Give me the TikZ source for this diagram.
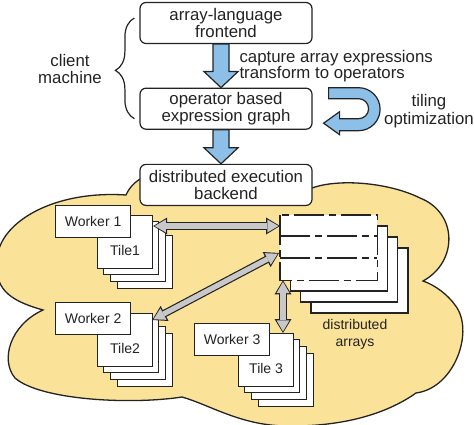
\documentclass[tikz,border=0pt]{standalone}
\usepackage{fontspec}
\setmainfont{Liberation Sans}
\usetikzlibrary{arrows.meta,positioning,calc,decorations.pathreplacing}
\definecolor{cloudyellow}{RGB}{250,226,152}
\definecolor{arrowblue}{RGB}{140,192,232}
\definecolor{arrowgray}{RGB}{200,200,200}
\definecolor{inkline}{RGB}{35,35,35}
\newcommand{\bigtext}{\fontsize{16.8}{17.5}\selectfont}
\newcommand{\bigtight}{\fontsize{16.8}{11.5}\selectfont}
\newcommand{\smalltext}{\fontsize{14}{17}\selectfont}

% blue block arrow pointing down
\newcommand{\blockdown}[2]{%
  \draw[bluearrow] let \p1=#1, \p2=#2 in
    (\x1-8pt,\y1) -- (\x1-8pt,\y2+16pt) -- (\x1-17pt,\y2+16pt) -- (\x1,\y2)
    -- (\x1+17pt,\y2+16pt) -- (\x1+8pt,\y2+16pt) -- (\x1+8pt,\y1) -- cycle;}
% gray two-headed link
\newcommand{\graylink}[2]{%
  \draw[linkout] #1 -- #2;
  \draw[linkin] #1 -- #2;}
% stack of tiles with a worker tag
\newcommand{\tilestack}[5]{%
  \coordinate (#1c) at #2;
  \foreach \k in {3,2,1}
    \draw[sheet] ($(#1c)+(\k*6.8,\k*6.8)$) rectangle +(55,53);
  \node[sheet,anchor=north west,minimum width=55pt,minimum height=53pt] (#1) at (#1c) {};
  \node[font=\smalltext] (#1lab) at ($(#1.north)+(0,35)$) {#3};
  \node[worker,anchor=north west] (#1w) at ($(#1c)+#5$) {#4};}

\begin{document}
\begin{tikzpicture}[
  x=1pt,y=-1pt,
  text=inkline,
  box/.style={draw=inkline,line width=1.2pt,rounded corners=6pt,fill=white,
              minimum width=172pt,minimum height=41pt,align=center,font=\bigtext},
  sheet/.style={draw=inkline,fill=white,line width=1.2pt},
  worker/.style={sheet,minimum width=75pt,minimum height=32pt,inner sep=0pt,font=\smalltext},
  bluearrow/.style={draw=inkline,fill=arrowblue,line width=1.2pt,line join=miter},
  linkout/.style={draw=inkline,line width=7.6pt,
    {Triangle[length=14pt,width=17pt,line width=0pt]}-{Triangle[length=14pt,width=17pt,line width=0pt]}},
  linkin/.style={draw=arrowgray,line width=5.2pt,shorten <=1.5pt,shorten >=1.5pt,
    {Triangle[length=11.2pt,width=13pt,line width=0pt]}-{Triangle[length=11.2pt,width=13pt,line width=0pt]}},
  cloud/.style={draw=inkline,fill=cloudyellow,line width=1.3pt},
  dashdot/.style={draw=inkline,line width=1.2pt,dash pattern=on 30pt off 5pt on 7pt off 5pt}
]
\useasboundingbox (0,0) rectangle (474,425);

% the cloud
\draw[cloud] (150,175) .. controls (138,178) and (130,186) .. (126,195)
  .. controls (50,190) and (-4,225) .. (-3,262)
  .. controls (-6,292) and (15,302) .. (43,310)
  .. controls (10,325) and (0,360) .. (15,378)
  .. controls (40,400) and (130,405) .. (182,397)
  .. controls (210,405) and (240,425) .. (285,426)
  .. controls (340,427) and (385,415) .. (416,393)
  .. controls (455,388) and (475,330) .. (455,305)
  .. controls (448,295) and (435,285) .. (423,281)
  .. controls (458,262) and (458,213) .. (420,198)
  .. controls (390,183) and (340,178) .. (312,188)
  .. controls (290,168) and (180,168) .. (150,175) -- cycle;

% client side
\node[box] (front) at (226,23) {array-language\\frontend};
\node[box,below=43.5pt of front] (expr) {operator based\\expression graph};
\node[box,below=34pt of expr] (backend) {distributed execution\\backend};

\blockdown{($(front.south)+(-5,0)$)}{($(expr.north)+(-5,0)$)}
\blockdown{($(expr.south)+(-5,0)$)}{($(backend.north)+(-5,0)$)}

\node[anchor=west,align=left,font=\bigtight] (capturelab) at (236,66)
  {capture array expressions\\transform to operators};

\draw[decorate,decoration={brace,amplitude=19pt,aspect=0.48},line width=1.2pt,inkline]
  ($(expr.west)+(-5,10)$) -- ($(front.west)+(-5,-5)$);
\node[align=center,font=\bigtext] (clientlab) at (70,69) {client\\machine};

% tiling loop
\begin{scope}[shift={(expr.east)}]
\draw[bluearrow] (16,-21) -- (46,-21) arc[start angle=-90,end angle=90,radius=21.5]
  -- (27,22) -- (27,26) -- (11,14.5) -- (27,3) -- (27,10) -- (46,10)
  arc[start angle=90,end angle=-90,radius=10] -- (16,-10) -- cycle;
\end{scope}
\node[align=center,font=\bigtext] (tilinglab) at (429,111) {tiling\\optimization};

% workers and tiles
\tilestack{tileone}{(97,215)}{Tile1}{Worker 1}{(-42,-10)}
\tilestack{tiletwo}{(97,313)}{Tile2}{Worker 2}{(-42,-11)}
\tilestack{tilethree}{(238,333)}{Tile 3}{Worker 3}{(-44,-10)}

% distributed arrays
\coordinate (arrc) at (280,215);
\foreach \k in {3,2,1}
  \draw[sheet] ($(arrc)+(\k*10.3,\k*11)$) rectangle +(97,65);
\node[fill=white,anchor=north west,minimum width=97pt,minimum height=65pt,inner sep=0pt] (arrfront) at (arrc) {};
\draw[dashdot] (arrfront.north west) rectangle (arrfront.south east);
\draw[dashdot] ($(arrfront.north west)+(0,21)$) -- ($(arrfront.north east)+(0,21)$);
\draw[dashdot] ($(arrfront.north west)+(0,43)$) -- ($(arrfront.north east)+(0,43)$);
\node[align=center,font=\smalltext] (arrlab) at (355,334) {distributed\\arrays};

% links
\graylink{($(tileone.north east)+(0,11)$)}{($(arrfront.north west)+(0,11)$)}
\graylink{($(arrfront.north west)+(-1,38)$)}{($(tiletwo.north east)+(-1,7)$)}
\graylink{($(arrfront.south west)+(3,0)$)}{($(tilethree.north west)+(45,0)$)}
\end{tikzpicture}
\end{document}
